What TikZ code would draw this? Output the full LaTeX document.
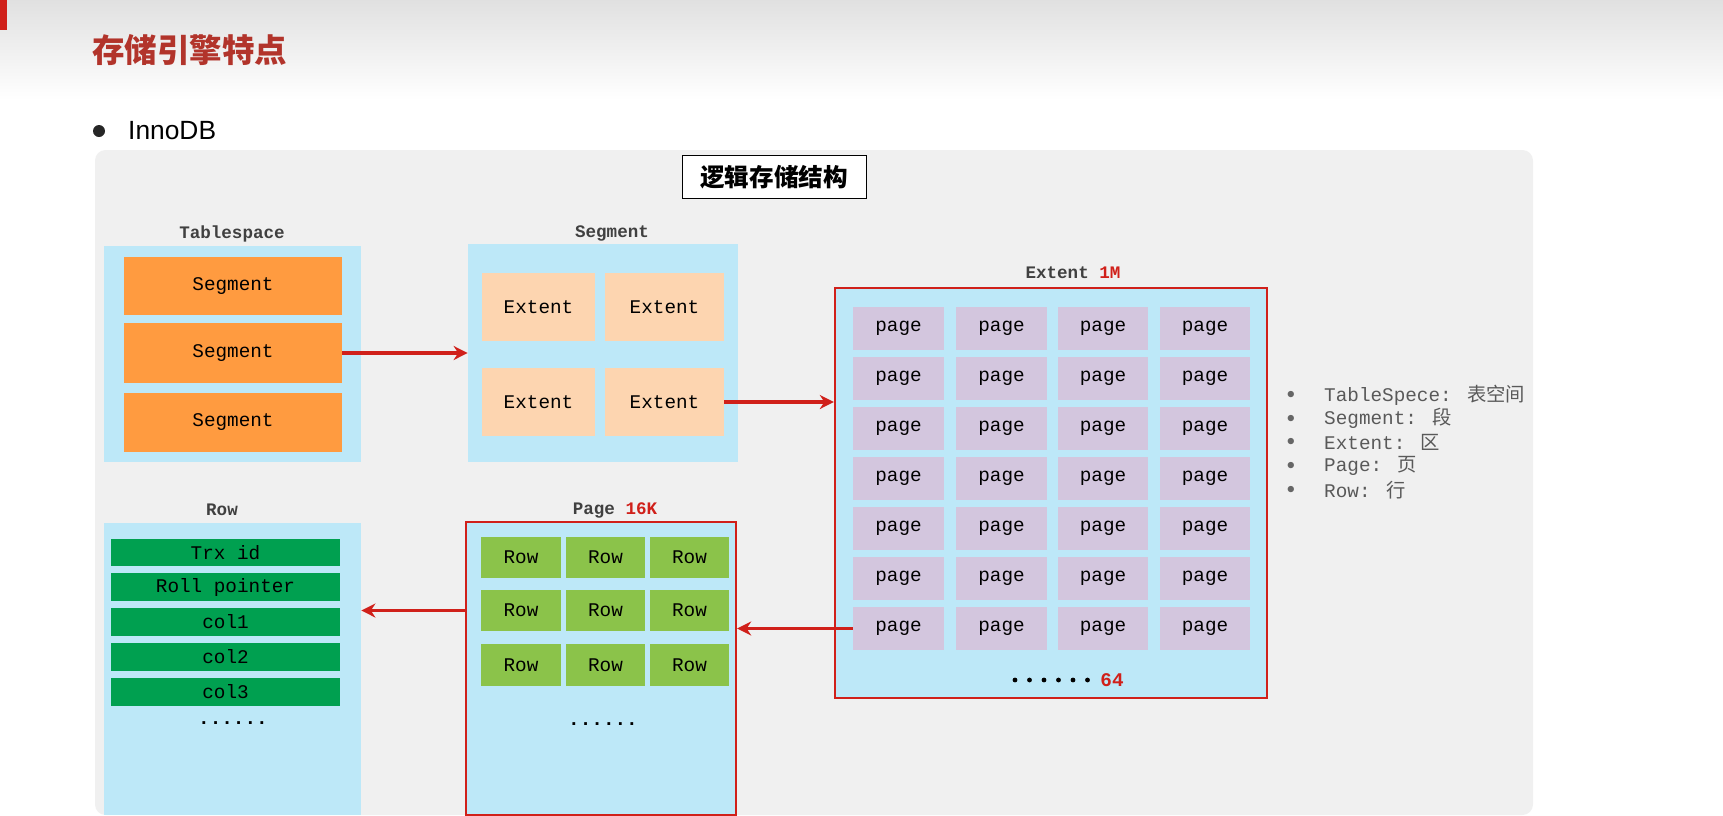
\documentclass[tikz,border=0pt]{standalone}
\usepackage{fontspec}
\setmainfont{Liberation Mono}
\newfontfamily\cjk{Noto Sans CJK SC}
\newfontfamily\sans{Liberation Sans}
\usetikzlibrary{arrows.meta,fit}

\definecolor{titlered}{HTML}{B2342B}
\definecolor{arrred}{HTML}{D0201A}
\definecolor{panelgray}{HTML}{F0F0F0}
\definecolor{skyblue}{HTML}{BDE8F8}
\definecolor{segorange}{HTML}{FF9B40}
\definecolor{extpeach}{HTML}{FDD5B0}
\definecolor{pagepurple}{HTML}{D3C6DE}
\definecolor{rowgreen}{HTML}{8BC34A}
\definecolor{fieldgreen}{HTML}{00A050}

\tikzset{
  box/.style={fill=skyblue, draw=none, inner sep=0pt},
  redbox/.style={box, draw=arrred, line width=1.3pt},
  cell/.style={draw=none, inner sep=0pt},
  txt/.style={label={[font=\fontsize{11}{13}\selectfont]center:#1}},
  caption/.style={font=\bfseries\fontsize{10}{12}\selectfont, text=black!75},
  link/.style={-{Stealth[length=8pt,width=8pt]}, draw=arrred, line width=1.8pt},
}

\begin{document}
\begin{tikzpicture}[x=0.02cm, y=-0.02cm]
    \useasboundingbox (0,0) rectangle (1723,815);
    % Slide background
    \shade[top color=black!12, bottom color=white] (0,0) rectangle (1723,100);
    \fill[arrred] (0,0) rectangle (7,30);
    \node[anchor=west, text=titlered, font=\cjk\bfseries\fontsize{18.5}{22}\selectfont] (title) at (86,50) {存储引擎特点};
    \fill[black!85] (99,131) circle (6);
    \node[anchor=west, font=\sans\fontsize{15}{17}\selectfont] (engine) at (122,131) {InnoDB};
    \fill[panelgray, rounded corners=6pt] (95,150) rectangle (1533,815);
    \node[draw=black, fill=white, minimum width=184*0.02cm, minimum height=43*0.02cm, font=\cjk\bfseries\fontsize{14}{16}\selectfont] (head) at (774,177) {逻辑存储结构};

    % Tablespace
    \node[caption] (tslabel) at (232,234) {Tablespace};
    \node[box, fit={(104,246) (361,462)}] (tsbox) {};
    \foreach \i/\ya/\yb in {1/257/315, 2/323/383, 3/393/452}
        \node[cell, fill=segorange, fit={(124,\ya) (342,\yb)}, txt=Segment] (sg\i) {};

    % Segment
    \node[caption] (seglabel) at (612,233) {Segment};
    \node[box, fit={(468,244) (738,462)}] (segbox) {};
    \node[cell, fill=extpeach, fit={(482,273) (595,341)}, txt=Extent] (ex1) {};
    \node[cell, fill=extpeach, fit={(605,273) (724,341)}, txt=Extent] (ex2) {};
    \node[cell, fill=extpeach, fit={(482,368) (595,436)}, txt=Extent] (ex3) {};
    \node[cell, fill=extpeach, fit={(605,368) (724,436)}, txt=Extent] (ex4) {};

    % Extent
    \node[caption] (extlabel) at (1073,273) {Extent \textcolor{arrred}{1M}};
    \node[redbox, fit={(835,288) (1267,698)}] (extbox) {};
    \foreach \r in {1,...,7}
        \foreach \c/\xa/\xb in {1/853/944, 2/956/1047, 3/1058/1148, 4/1160/1250}
            \node[cell, fill=pagepurple, fit={(\xa,257+50*\r) (\xb,300+50*\r)}, txt=page] (pg\r\c) {};
    \foreach \k in {0,...,5}
        \fill (1015+14.5*\k,680) circle (2.4);
    \node[font=\bfseries\fontsize{11}{13}\selectfont, text=arrred] (extnum) at (1112,680) {64};

    % Page
    \node[caption] (pagelabel) at (615,510) {Page \textcolor{arrred}{16K}};
    \node[redbox, fit={(466,522) (736,815)}] (pagebox) {};
    \foreach \r/\ya/\yb in {1/537/578, 2/590/631, 3/644/686}
        \foreach \c/\xa/\xb in {1/481/561, 2/566/645, 3/650/729}
            \node[cell, fill=rowgreen, fit={(\xa,\ya) (\xb,\yb)}, txt=Row] (rw\r\c) {};
    \node[font=\bfseries\fontsize{11}{13}\selectfont] (pagemore) at (603,724) {......};

    % Row
    \node[caption] (rowlabel) at (222,510) {Row};
    \node[box, fit={(104,523) (361,815)}] (rowbox) {};
    \foreach \i/\ya/\yb/\t in {1/539/566/Trx id, 2/573/601/Roll pointer, 3/608/636/col1, 4/643/671/col2, 5/678/706/col3}
        \node[cell, fill=fieldgreen, fit={(111,\ya) (340,\yb)}, txt=\t] (fd\i) {};
    \node[font=\bfseries\fontsize{11}{13}\selectfont] (rowmore) at (233,723) {......};

    % Connectors
    \draw[link] (sg2.east) -- (segbox.west |- sg2.east);
    \draw[link] (ex4.east) -- (extbox.west |- ex4.east);
    \draw[link] (pg71.west) -- (pagebox.east |- pg71.west);
    \draw[link] (pagebox.west |- rw21.west) -- (rowbox.east |- rw21.west);

    % Legend
    \foreach \i/\a/\b in {0/TableSpece/表空间, 1/Segment/段, 2/Extent/区, 3/Page/页, 4/Row/行} {
        \node[text=black!60, font=\fontsize{9}{11}\selectfont] (lb\i) at (1291,395+23.7*\i) {$\bullet$};
        \node[anchor=west, text=black!65, font=\fontsize{11}{13}\selectfont] (lg\i) at (1318,395+23.7*\i) {\a: {\cjk\b}};
    }
\end{tikzpicture}
\end{document}
